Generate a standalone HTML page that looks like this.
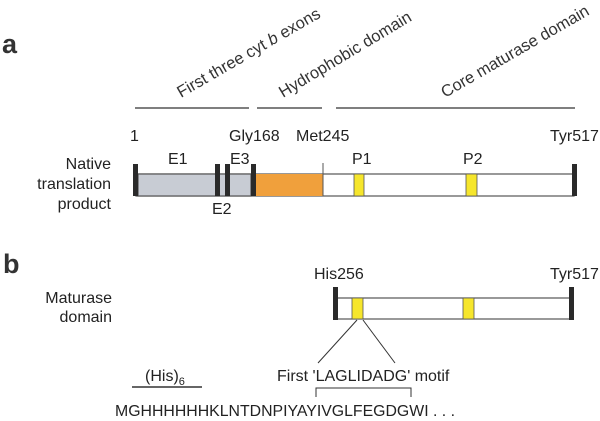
<!DOCTYPE html>
<html><head><meta charset="utf-8"><style>
html,body{margin:0;padding:0;background:#fff;}
svg{display:block;font-family:"Liberation Sans",sans-serif;}
</style></head><body>
<svg width="600" height="421" viewBox="0 0 600 421" xmlns="http://www.w3.org/2000/svg">
<text x="2" y="53" font-size="27" font-weight="bold" fill="#333">a</text>
<text x="3" y="273" font-size="27" font-weight="bold" fill="#333">b</text>
<g font-size="16.5" fill="#333">
<text transform="translate(181,98) rotate(-30)">First three cyt <tspan font-style="italic">b</tspan> exons</text>
<text transform="translate(283,98) rotate(-31)">Hydrophobic domain</text>
<text transform="translate(445,98) rotate(-30)">Core maturase domain</text>
</g>
<g stroke="#555" stroke-width="1.5">
<line x1="135" y1="108" x2="249" y2="108"/>
<line x1="257" y1="108" x2="322" y2="108"/>
<line x1="336" y1="108" x2="575" y2="108"/>
</g>
<g font-size="16" fill="#222">
<text x="130" y="141">1</text>
<text x="229" y="141">Gly168</text>
<text x="296" y="141">Met245</text>
<text x="550" y="141">Tyr517</text>
<text x="168" y="164">E1</text>
<text x="230" y="164">E3</text>
<text x="352" y="164">P1</text>
<text x="463" y="164">P2</text>
<text x="212" y="214">E2</text>
<text x="111" y="169" text-anchor="end">Native</text>
<text x="111" y="189" text-anchor="end">translation</text>
<text x="111" y="209" text-anchor="end">product</text>
</g>
<rect x="136" y="174" width="438" height="22" fill="#fff" stroke="#555" stroke-width="1.2"/>
<rect x="138" y="174" width="113" height="22" fill="#c8ccd4" stroke="#555" stroke-width="1.2"/>
<rect x="256" y="174" width="67" height="22" fill="#f0a03c"/>
<line x1="323" y1="163" x2="323" y2="196" stroke="#555" stroke-width="1"/>
<rect x="354" y="174" width="10" height="22" fill="#f6e62c" stroke="#555" stroke-width="0.8"/>
<rect x="466" y="174" width="11" height="22" fill="#f6e62c" stroke="#555" stroke-width="0.8"/>
<g fill="#2a2a2a">
<rect x="133" y="164" width="5" height="32"/>
<rect x="215" y="164" width="5" height="32"/>
<rect x="225" y="164" width="5" height="32"/>
<rect x="251" y="164" width="5" height="32"/>
<rect x="572" y="164" width="5" height="32"/>
</g>
<g font-size="16" fill="#222">
<text x="314" y="279">His256</text>
<text x="550" y="279">Tyr517</text>
<text x="112" y="303" text-anchor="end">Maturase</text>
<text x="112" y="322" text-anchor="end">domain</text>
</g>
<rect x="336" y="298" width="235" height="21" fill="#fff" stroke="#555" stroke-width="1.2"/>
<rect x="352" y="298" width="11" height="21" fill="#f6e62c" stroke="#555" stroke-width="0.8"/>
<rect x="463" y="298" width="11" height="21" fill="#f6e62c" stroke="#555" stroke-width="0.8"/>
<g fill="#2a2a2a">
<rect x="333" y="287" width="5" height="33"/>
<rect x="569" y="287" width="5" height="33"/>
</g>
<g stroke="#333" stroke-width="1">
<line x1="357" y1="320" x2="318" y2="363"/>
<line x1="363" y1="320" x2="395" y2="363"/>
<line x1="132" y1="387" x2="202" y2="387" stroke-width="1.5"/>
<polyline points="316,397 316,388 411,388 411,397" fill="none"/>
</g>
<g font-size="16" fill="#222">
<text x="145" y="381">(His)<tspan font-size="11" dy="4">6</tspan></text>
<text x="277" y="381">First 'LAGLIDADG' motif</text>
<text x="115" y="416" font-size="16" textLength="340" lengthAdjust="spacingAndGlyphs">MGHHHHHHKLNTDNPIYAYIVGLFEGDGWI . . .</text>
</g>
</svg>
</body></html>
